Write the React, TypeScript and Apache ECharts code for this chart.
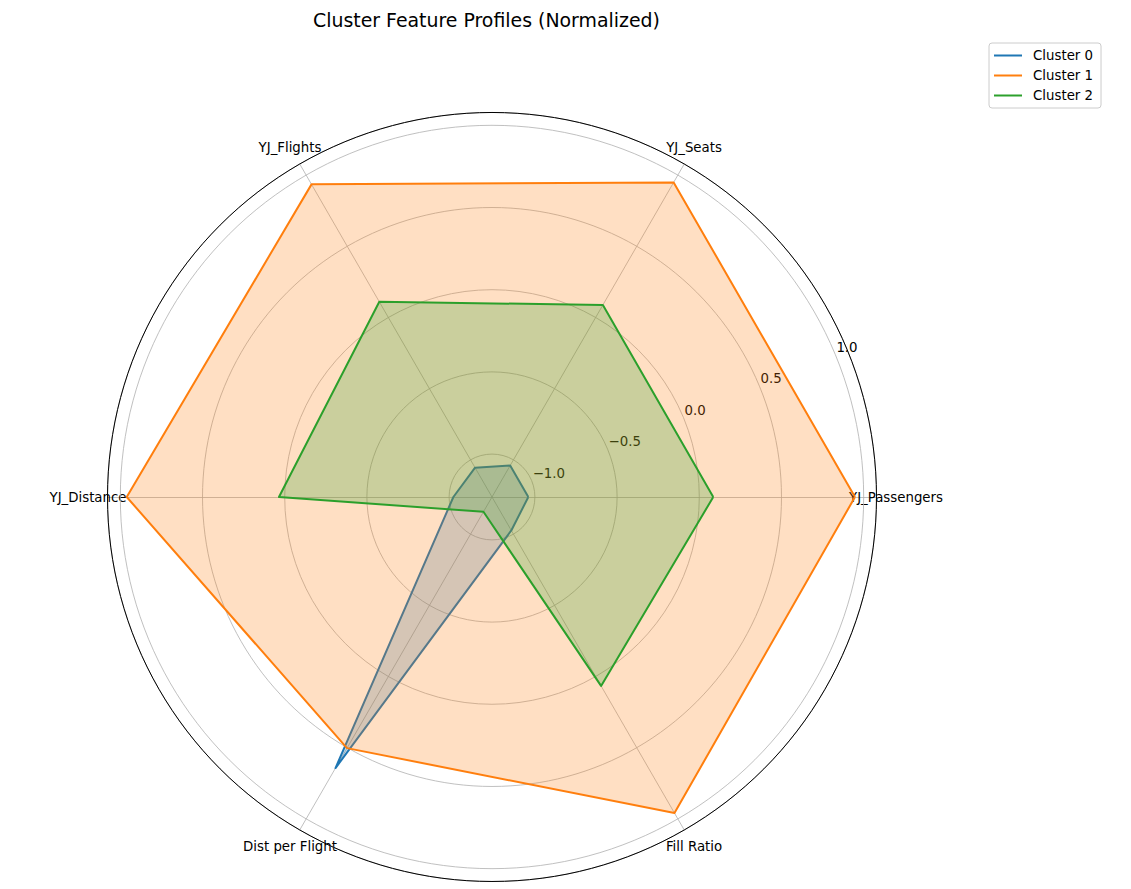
import * as echarts from 'echarts';
import React, { useEffect, useRef } from 'react';

const features = ['YJ_Passengers', 'YJ_Seats', 'YJ_Flights', 'YJ_Distance', 'Dist per Flight', 'Fill Ratio'];
const clusterNames = ['Cluster 0', 'Cluster 1', 'Cluster 2'];
const cluster0 = [-1.04, -1.04, -1.055, -1.026, 0.643, -1.026];
const cluster1 = [0.947, 0.949, 0.935, 0.961, 0.503, 0.959];
const cluster2 = [0.085, 0.088, 0.11, 0.035, -1.157, 0.066];
const colors = ['#1f77b4', '#ff7f0e', '#2ca02c'];

// radial limits as matplotlib autoscaled them
const R_MIN = -1.261;
const R_MAX = 1.078;

const FONT = 'DejaVu Sans';
const CENTER = [492, 497];
const RADIUS = 384.5;

const fmt = (v: number) => (v < 0 ? '\u2212' : '') + Math.abs(v).toFixed(1);

const App: React.FC = () => {
  const chartRef = useRef<HTMLDivElement>(null);

  useEffect(() => {
    if (!chartRef.current) return;
    const chart = echarts.init(chartRef.current, null, { renderer: 'svg' });
    const values = [cluster0, cluster1, cluster2];

    chart.setOption({
      animation: false,
      color: colors,
      title: {
        text: 'Cluster Feature Profiles (Normalized)',
        left: 313,
        top: 10,
        padding: 0,
        textStyle: { fontFamily: FONT, fontSize: 18.9, fontWeight: 'normal', color: '#000' },
      },
      legend: {
        orient: 'vertical',
        left: 989,
        top: 43,
        data: clusterNames,
        icon: 'rect',
        itemWidth: 28,
        itemHeight: 2,
        itemGap: 7,
        padding: [6, 8, 6, 5],
        borderColor: '#cccccc',
        borderWidth: 1,
        borderRadius: 3,
        backgroundColor: 'rgba(255,255,255,0.8)',
        textStyle: { fontFamily: FONT, fontSize: 13.33, color: '#000', padding: [0, 0, 0, 6] },
      },
      polar: { center: CENTER, radius: RADIUS },
      angleAxis: {
        type: 'value',
        min: 0,
        max: 360,
        startAngle: 22.5,
        z: 3,
        axisLine: { lineStyle: { color: '#000', width: 1 } },
        axisTick: { show: false },
        axisLabel: { show: false },
        splitLine: { show: false },
      },
      radiusAxis: {
        type: 'value',
        min: R_MIN,
        max: R_MAX,
        splitNumber: 5,
        z: 1,
        axisLine: { show: false },
        axisTick: { show: false },
        splitLine: { show: true, lineStyle: { color: '#b0b0b0', width: 0.8 } },
        axisLabel: {
          showMinLabel: false,
          showMaxLabel: false,
          margin: 0,
          rotate: 0,
          align: 'left',
          verticalAlign: 'bottom',
          padding: [0, 0, 1, 1],
          fontFamily: FONT,
          fontSize: 13.33,
          color: '#000',
          formatter: fmt,
        },
      },
      radar: {
        center: CENTER,
        radius: RADIUS,
        startAngle: 0,
        shape: 'circle',
        splitNumber: 1,
        nameGap: 19.5,
        indicator: features.map((name) => ({ name, min: R_MIN, max: R_MAX })),
        axisName: {
          color: '#000',
          fontFamily: FONT,
          fontSize: 13.33,
          align: 'center',
          verticalAlign: 'middle',
        },
        axisLine: { lineStyle: { color: '#b0b0b0', width: 0.8 } },
        axisTick: { show: false },
        axisLabel: { show: false },
        splitLine: { show: false },
        splitArea: { show: false },
      },
      series: clusterNames.map((name, i) => ({
        type: 'radar',
        name,
        symbol: 'none',
        z: 2,
        itemStyle: { color: colors[i] },
        lineStyle: { color: colors[i], width: 2 },
        areaStyle: { color: colors[i], opacity: 0.25 },
        data: [{ name, value: values[i] }],
      })),
    });

    return () => {
      chart.dispose();
    };
  }, []);

  return (
    <div
      ref={chartRef}
      style={{ position: 'fixed', left: 0, top: 0, width: 1131, height: 889, background: '#fff' }}
    ></div>
  );
};

export default App;
